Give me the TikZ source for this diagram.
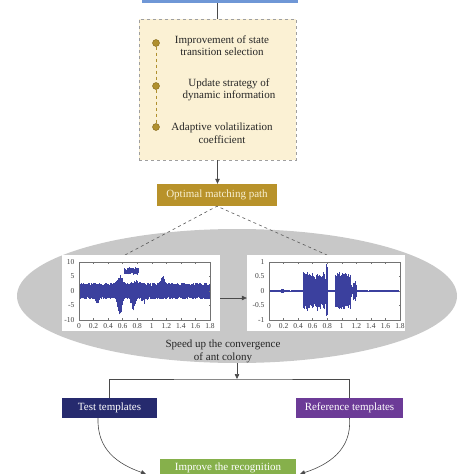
\documentclass[tikz,border=0pt]{standalone}
\usepackage{fontspec}
\setmainfont{Liberation Serif}
\usetikzlibrary{arrows.meta,shapes.geometric}
\definecolor{topblue}{HTML}{6F97D6}
\definecolor{paleyellow}{HTML}{FBF1D4}
\definecolor{goldbox}{HTML}{B8922A}
\definecolor{dotcol}{HTML}{B0902E}
\definecolor{dotedge}{HTML}{806418}
\definecolor{ellgray}{HTML}{C8C8C8}
\definecolor{navybox}{HTML}{262A6E}
\definecolor{purpbox}{HTML}{6C3B97}
\definecolor{greenbox}{HTML}{86B04B}
\definecolor{wave}{HTML}{3B409E}
\definecolor{linegray}{HTML}{4A4A4A}
\definecolor{creamtext}{HTML}{F8F0D2}
\tikzset{
  lbl/.style={font=\fontsize{11}{12.5}\selectfont, align=center, text=black!85, inner sep=0pt},
  colbox/.style={font=\fontsize{11}{12.5}\selectfont, text=white, inner sep=0pt, minimum height=20pt},
  conn/.style={draw=linegray, line width=0.6pt},
  arr/.style={-{Triangle[length=5pt,width=4.5pt]}},
  ticklbl/.style={font=\fontsize{7.5}{8}\selectfont, text=black!75, inner sep=0pt},
  dotnode/.style={circle, fill=dotcol, draw=dotedge, line width=0.4pt, minimum size=7pt, inner sep=0pt},
  plotframe/.style={fill=white, minimum width=158pt, minimum height=76pt, inner sep=0pt},
  axisbox/.style={draw=black!55, line width=0.4pt},
}
\begin{document}
\begin{tikzpicture}[x=1pt,y=-1pt]
\useasboundingbox (0,0) rectangle (474,474);
\pgfmathsetseed{7}
% top bar
\node[fill=topblue, minimum width=156pt, minimum height=6pt, inner sep=0pt] (top) at (220,0) {};
% dashed box
\node[draw=gray!75, dashed, line width=0.6pt, fill=paleyellow, minimum width=157pt, minimum height=141pt, inner sep=0pt] (steps) at (217.5,89.5) {};
\draw[conn] (top.south -| steps.north) -- (steps.north);
\node[dotnode] (d1) at (156,43) {};
\node[dotnode] (d2) at (156,86) {};
\node[dotnode] (d3) at (156,127) {};
\draw[dotcol, dashed, line width=0.7pt] (d1) -- (d2) -- (d3);
\node[lbl] (t1) at (222,45.5) {Improvement of state\\transition selection};
\node[lbl] (t2) at (229,90) {Update strategy of\\dynamic information};
\node[lbl] (t3) at (222,133) {Adaptive volatilization\\coefficient};
% optimal matching path
\node[colbox, fill=goldbox, text=creamtext, minimum width=120pt, minimum height=22pt] (opt) at (217,195) {Optimal matching path};
\draw[conn, arr] (steps.south) -- (steps.south |- opt.north);
% ellipse
\node[ellipse, fill=ellgray, minimum width=440pt, minimum height=134pt, inner sep=0pt] (ell) at (237,296) {};
% dashed lines
\coordinate (la) at (125,255);
\coordinate (ra) at (327,255);
\draw[gray!70!black, dashed, line width=0.6pt] (la) -- (opt.south) -- (ra);
% plot frames
\node[plotframe] (lp) at (141,293) {};
\node[plotframe] (rp) at (326,293) {};
\draw[conn, arr] ([yshift=-5pt]lp.east) -- ([yshift=-5pt]rp.west);
% left plot
\begin{scope}[shift={(79pt,-291pt)}, x=72.8pt, y=2.9pt]
  \foreach \i in {0,...,359} {
    \pgfmathsetmacro\xx{\i*0.005}
    \pgfmathsetmacro\hi{1.8+1.0*rnd + 3.0*max(0,1-abs(\xx-0.56)/0.08)*(0.7+0.3*rnd) + 3.2*max(0,1-abs(\xx-1.15)/0.05) + 1.5*max(0,1-abs(\xx-0.8)/0.12)*rnd}
    \pgfmathsetmacro\lo{-1.8-1.0*rnd - 6.8*max(0,1-abs(\xx-0.56)/0.06)*(0.7+0.3*rnd) - 4.5*max(0,1-abs(\xx-0.74)/0.05)*(0.6+0.4*rnd) - 2.0*max(0,1-abs(\xx-0.25)/0.04) - 2.5*max(0,1-abs(\xx-0.9)/0.07)*rnd}
    \draw[wave, line width=0.6pt] (\xx,\lo) -- (\xx,\hi);
  }
  \foreach \i in {0,...,38} {
    \pgfmathsetmacro\xx{0.62+\i*0.005}
    \pgfmathsetmacro\hi{7.0+1.2*rnd}
    \pgfmathsetmacro\lo{5.6+0.8*rnd}
    \draw[wave, line width=0.6pt] (\xx,\lo) -- (\xx,\hi);
  }
  \draw[axisbox] (0,-10) rectangle (1.8,10);
  \foreach \v in {-10,-5,0,5,10} {
    \draw[axisbox] (0,\v) -- (0.02,\v) (1.8,\v) -- (1.78,\v);
    \node[ticklbl, anchor=east] at (-0.06,\v) {\v};
  }
  \foreach \v/\t in {0/0,0.2/0.2,0.4/0.4,0.6/0.6,0.8/0.8,1/1,1.2/1.2,1.4/1.4,1.6/1.6,1.8/1.8} {
    \draw[axisbox] (\v,-10) -- (\v,-9.4) (\v,10) -- (\v,9.4);
    \node[ticklbl, anchor=north] at (\v,-11.3) {\t};
  }
\end{scope}
% right plot
\begin{scope}[shift={(269pt,-291pt)}, x=72.8pt, y=29pt]
  \foreach \i in {0,...,359} {
    \pgfmathsetmacro\xx{\i*0.005}
    \pgfmathsetmacro\amp{(\xx<0.465) ? (0.02+0.05*max(0,1-abs(\xx-0.18)/0.05)) : ((\xx<0.785) ? (0.4+0.3*rnd - 0.2*max(0,1-abs(\xx-0.63)/0.02)) : ((\xx<0.81) ? (0.75+0.25*rnd) : ((\xx<0.905) ? 0.03 : ((\xx<1.12) ? (0.45+0.25*rnd) : ((\xx<1.2) ? (0.05+0.3*rnd) : 0.02)))))}
    \pgfmathsetmacro\hi{\amp*(0.8+0.2*rnd)}
    \pgfmathsetmacro\lo{-\amp*(0.8+0.2*rnd)}
    \draw[wave, line width=0.6pt] (\xx,\lo) -- (\xx,\hi);
  }
  \draw[wave, line width=0.7pt] (0,0) -- (1.8,0);
  \draw[axisbox] (0,-1) rectangle (1.8,1);
  \foreach \v/\t in {-1/-1,-0.5/-0.5,0/0,0.5/0.5,1/1} {
    \draw[axisbox] (0,\v) -- (0.02,\v) (1.8,\v) -- (1.78,\v);
    \node[ticklbl, anchor=east] at (-0.06,\v) {\t};
  }
  \foreach \v/\t in {0/0,0.2/0.2,0.4/0.4,0.6/0.6,0.8/0.8,1/1,1.2/1.2,1.4/1.4,1.6/1.6,1.8/1.8} {
    \draw[axisbox] (\v,-1) -- (\v,-0.94) (\v,1) -- (\v,0.94);
    \node[ticklbl, anchor=north] at (\v,-1.13) {\t};
  }
\end{scope}
% speed text
\node[lbl] (speed) at (223,351.5) {Speed up the convergence\\of ant colony};
\coordinate (split) at (237,379);
\draw[conn, arr] (ell.south) -- (split);
% templates
\node[colbox, fill=navybox, minimum width=95pt] (test) at (109.5,408) {Test templates};
\node[colbox, fill=purpbox, minimum width=107pt] (ref) at (349.5,408) {Reference templates};
\draw[conn] (test.north) |- (split) -| (ref.north);
% improve box
\node[fill=greenbox, minimum width=136pt, minimum height=32pt, inner sep=0pt, anchor=north] (imp) at (228,459) {};
\node[colbox, minimum height=0pt] (impt) at (228,468) {Improve the recognition};
\coordinate (le) at (146,474);
\coordinate (re) at (300,474);
\draw[conn, arr] ([xshift=-11.5pt]test.south) .. controls (97,450) and (118,464) .. (le);
\draw[conn, arr] (ref.south) .. controls (352,450) and (328,465) .. (re);
\end{tikzpicture}
\end{document}
